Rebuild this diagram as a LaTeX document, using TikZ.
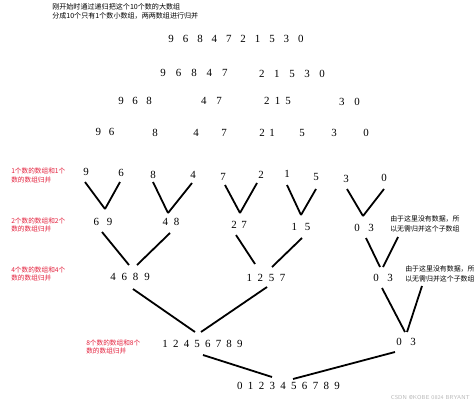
\documentclass[tikz,border=0pt]{standalone}
\usepackage{fontspec}
\setmainfont{Liberation Serif}
\newfontfamily\cjk{Noto Sans CJK SC}
\usetikzlibrary{calc}
\definecolor{lab}{RGB}{228,32,60}
\definecolor{wm}{RGB}{185,185,185}
\newcommand\dg[2]{{\spaceskip=#1pt\relax #2}}
\begin{document}
\begin{tikzpicture}[x=0.75pt,y=-0.75pt,
  num/.style={inner sep=0pt,font=\fontsize{8.2}{9}\selectfont},
  ln/.style={line width=1.35pt},
  hdr/.style={inner sep=0pt,anchor=west,align=left,font=\cjk\fontsize{5.3}{6.9}\selectfont},
  rlab/.style={inner sep=0pt,anchor=west,align=left,text=lab,font=\cjk\fontsize{5}{6.1}\selectfont},
  note/.style={inner sep=0pt,anchor=west,align=left,font=\cjk\fontsize{5.2}{7.2}\selectfont}]
\useasboundingbox (0,0) rectangle (474,403);
\fill[white] (0,0) rectangle (474,403);
% header
\node[hdr] (hdr) at (52,11.5) {刚开始时通过递归把这个10个数的大数组\\分成10个只有1个数小数组，两两数组进行归并};
% splitting rows
\node[num] (r1) at (236,39) {\dg{6.7}{9 6 8 4 7 2 1 5 3 0}};
\node[num] (r2a) at (194,73) {\dg{7.5}{9 6 8 4 7}};
\node[num] (r2b) at (292,74) {\dg{7.2}{2 1 5 3 0}};
\node[num] (r3a) at (135,101) {\dg{6.4}{9 6 8}};
\node[num] (r3b) at (211.5,101) {\dg{7.2}{4 7}};
\node[num] (r3c) at (277.5,101) {\dg{3.8}{2 1 5}};
\node[num] (r3d) at (349.5,102) {\dg{7.2}{3 0}};
\node[num] (r4a) at (105,132) {\dg{5.9}{9 6}};
\node[num] (r4b) at (155,133) {8};
\node[num] (r4c) at (196,133) {4};
\node[num] (r4d) at (224,133) {7};
\node[num] (r4e) at (267,133) {\dg{3.4}{2 1}};
\node[num] (r4f) at (302,133) {5};
\node[num] (r4g) at (334,133) {3};
\node[num] (r4h) at (366,133) {0};
% leaves
\node[num] (l9) at (86,172) {9};
\node[num] (l6) at (121,173) {6};
\node[num] (l8) at (153,175) {8};
\node[num] (l4) at (193,175) {4};
\node[num] (l7) at (223,177) {7};
\node[num] (l2) at (261,175) {2};
\node[num] (l1) at (287,174) {1};
\node[num] (l5) at (316,177) {5};
\node[num] (l3) at (346,179) {3};
\node[num] (l0) at (384,178) {0};
% level 2
\node[num] (m69) at (103,222) {\dg{5.7}{6 9}};
\node[num] (m48) at (171,222) {\dg{4.2}{4 8}};
\node[num] (m27) at (239,225) {\dg{3.4}{2 7}};
\node[num] (m15) at (301,227) {\dg{5.7}{1 5}};
\node[num] (m03a) at (364,228) {\dg{6.4}{0 3}};
% level 3
\node[num] (m4689) at (130,277) {\dg{4.4}{4 6 8 9}};
\node[num] (m1257) at (266,278) {\dg{4.2}{1 2 5 7}};
\node[num] (m03b) at (383,278) {\dg{6.4}{0 3}};
% level 4
\node[num] (m8) at (202.5,344) {\dg{3.9}{1 2 4 5 6 7 8 9}};
\node[num] (m03c) at (406,342) {\dg{6.4}{0 3}};
% final
\node[num] (fin) at (288.5,386) {\dg{4}{0 1 2 3 4 5 6 7 8 9}};
% free ends
\coordinate (f1) at (398,237);
\coordinate (f2) at (422,286);
% connectors level 1 -> 2
\draw[ln] ($(l9)+(-1,10)$) -- ($(m69)+(2,-13)$);
\draw[ln] ($(l6)+(-1,9)$) -- ($(m69)+(2,-13)$);
\draw[ln] ($(l8)+(0,7)$) -- ($(m48)+(-3,-9)$);
\draw[ln] ($(l4)+(-1,8)$) -- ($(m48)+(-3,-9)$);
\draw[ln] ($(l7)+(2,8)$) -- ($(m27)+(1,-12)$);
\draw[ln] ($(l2)+(-4,8)$) -- ($(m27)+(1,-12)$);
\draw[ln] ($(l1)+(0,11)$) -- ($(m15)+(0,-12)$);
\draw[ln] ($(l5)+(0,12)$) -- ($(m15)+(0,-12)$);
\draw[ln] ($(l3)+(1,10)$) -- ($(m03a)+(-1,-12)$);
\draw[ln] ($(l0)+(0,11)$) -- ($(m03a)+(-1,-12)$);
% level 2 -> 3
\draw[ln] ($(m69)+(-1,10)$) -- ($(m4689)+(-1,-12)$);
\draw[ln] ($(m48)+(-1,11)$) -- ($(m4689)+(7,-12)$);
\draw[ln] ($(m27)+(-3,10)$) -- ($(m1257)+(-11,-14)$);
\draw[ln] ($(m15)+(1,11)$) -- ($(m1257)+(6,-11)$);
\draw[ln] ($(m03a)+(2,10)$) -- ($(m03b)+(-3,-11)$);
\draw[ln] (f1) -- ($(m03b)+(0,-11)$);
% level 3 -> 4
\draw[ln] ($(m4689)+(3,12)$) -- ($(m8)+(-7.5,-12)$);
\draw[ln] ($(m1257)+(1,9)$) -- ($(m8)+(-1.5,-12)$);
\draw[ln] ($(m03b)+(-1,10)$) -- ($(m03c)+(-1,-10)$);
\draw[ln] (f2) -- ($(m03c)+(1,-10)$);
% level 4 -> 5
\draw[ln] ($(m8)+(0.5,11)$) -- ($(fin)+(-16.5,-9)$);
\draw[ln] ($(m03c)+(-11,10)$) -- ($(fin)+(4.5,-7)$);
% red labels
\node[rlab] (lab1) at (11,175.5) {1个数的数组和1个\\数的数组归并};
\node[rlab] (lab2) at (11,225) {2个数的数组和2个\\数的数组归并};
\node[rlab] (lab3) at (11,274) {4个数的数组和4个\\数的数组归并};
\node[rlab] (lab4) at (86,347) {8个数的数组和8个\\数的数组归并};
% notes
\node[note] (n1) at (390,224) {由于这里没有数据，所\\以无需归并这个子数组};
\node[note] (n2) at (405,274) {由于这里没有数据，所\\以无需归并这个子数组};
% watermark
\node[inner sep=0pt,anchor=east,text=wm,font=\sffamily\fontsize{4.3}{5}\selectfont] (wmk) at (470,398) {CSDN @KOBE 0824 BRYANT};
\end{tikzpicture}
\end{document}
